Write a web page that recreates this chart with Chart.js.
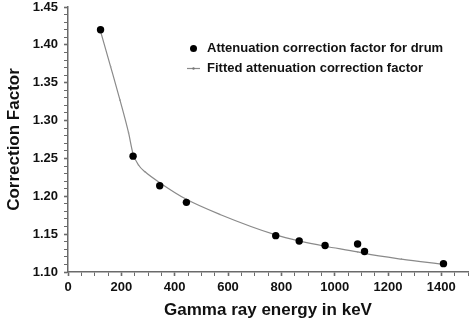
<!DOCTYPE html>
<html>
<head>
<meta charset="utf-8">
<script src="https://cdn.jsdelivr.net/npm/chart.js@4/dist/chart.umd.min.js"></script>
<style>
  html, body { margin: 0; padding: 0; background: #fff; }
  #wrap { width: 474px; height: 333px; }
</style>
</head>
<body>
<div id="wrap"><canvas id="acfChart" width="474" height="333"></canvas></div>
<script>
// measured points (Eu-152 lines)
const measuredEnergy = [122, 244, 344, 444, 779, 867, 964, 1086, 1112, 1408];
const measuredFactor = [1.420, 1.253, 1.214, 1.192, 1.148, 1.141, 1.135, 1.137, 1.127, 1.111];

// fitted curve
const fittedEnergy = [122, 160, 195, 227, 244, 265, 290, 344, 444, 570, 779, 867, 964, 1086, 1112, 1250, 1408];
const fittedFactor = [1.418, 1.371, 1.327, 1.284, 1.256, 1.241, 1.232, 1.218, 1.196, 1.176, 1.149, 1.141, 1.134, 1.1265, 1.1245, 1.117, 1.110];

const xLabels = [0, 200, 400, 600, 800, 1000, 1200, 1400];
const yLabels = [1.10, 1.15, 1.20, 1.25, 1.30, 1.35, 1.40, 1.45];

const FONT = '"Liberation Sans", Arial, sans-serif';
const AXIS = '#6a6a6a';

const toPoints = (xs, ys) => xs.map((x, i) => ({ x: x, y: ys[i] }));
const isMajorY = (v) => yLabels.some((l) => Math.abs(l - v) < 1e-6);

// legend drawn inside the plot area, top right
const innerLegend = {
  id: 'innerLegend',
  afterDraw(chart) {
    const ctx = chart.ctx;
    const sets = chart.data.datasets;
    ctx.save();
    ctx.font = 'bold 13px ' + FONT;
    ctx.textBaseline = 'middle';
    ctx.textAlign = 'left';
    // row 1 : dot
    ctx.beginPath();
    ctx.arc(193.5, 48.5, 3.5, 0, Math.PI * 2);
    ctx.fillStyle = '#000';
    ctx.fill();
    ctx.fillStyle = '#111';
    ctx.fillText(sets[0].label, 207, 48.5);
    // row 2 : line
    ctx.strokeStyle = '#8a8a8a';
    ctx.lineWidth = 1.2;
    ctx.beginPath();
    ctx.moveTo(187, 68.5);
    ctx.lineTo(200, 68.5);
    ctx.stroke();
    ctx.beginPath();
    ctx.arc(193.5, 68.5, 1.2, 0, Math.PI * 2);
    ctx.fillStyle = '#777';
    ctx.fill();
    ctx.fillStyle = '#111';
    ctx.fillText(sets[1].label, 207, 68.5);
    ctx.restore();
  }
};

new Chart(document.getElementById('acfChart'), {
  type: 'scatter',
  data: {
    datasets: [
      {
        label: 'Attenuation correction factor for drum',
        data: toPoints(measuredEnergy, measuredFactor),
        showLine: false,
        pointRadius: 3.7,
        pointBackgroundColor: '#000',
        pointBorderColor: '#000',
        pointBorderWidth: 0,
        order: 1,
      },
      {
        label: 'Fitted attenuation correction factor',
        data: toPoints(fittedEnergy, fittedFactor),
        showLine: true,
        borderColor: '#8a8a8a',
        borderWidth: 1.2,
        cubicInterpolationMode: 'monotone',
        pointRadius: 0.8,
        pointBackgroundColor: '#999',
        pointBorderWidth: 0,
        order: 2,
      },
    ],
  },
  options: {
    responsive: false,
    animation: false,
    layout: { padding: { top: 7, right: 6, left: 4, bottom: 12 } },
    plugins: { legend: { display: false }, tooltip: { enabled: false } },
    scales: {
      x: {
        type: 'linear',
        min: 0,
        max: 1500,
        afterFit: (s) => { s.height = 49; s.paddingLeft = 0; s.paddingRight = 0; },
        border: { display: true, color: AXIS, width: 1.5 },
        grid: {
          drawOnChartArea: false,
          drawTicks: true,
          tickLength: 4,
          tickColor: AXIS,
          tickWidth: (c) => (xLabels.includes(c.tick.value) ? 1.6 : 1),
        },
        ticks: {
          stepSize: 50,
          autoSkip: false,
          maxRotation: 0,
          padding: 4,
          color: '#111',
          font: { family: FONT, size: 13, weight: 'bold' },
          callback: (v) => (xLabels.includes(v) ? String(v) : ''),
        },
        title: {
          display: true,
          text: 'Gamma ray energy in keV',
          color: '#111',
          padding: { top: 2, bottom: 0 },
          font: { family: FONT, size: 17, weight: 'bold' },
        },
      },
      y: {
        type: 'linear',
        min: 1.10,
        max: 1.45,
        afterFit: (s) => { s.width = 64; s.paddingTop = 0; s.paddingBottom = 0; },
        border: { display: true, color: AXIS, width: 1.5 },
        grid: {
          drawOnChartArea: false,
          drawTicks: true,
          tickLength: 4,
          tickColor: AXIS,
          tickWidth: (c) => (isMajorY(c.tick.value) ? 1.6 : 1),
        },
        ticks: {
          stepSize: 0.01,
          autoSkip: false,
          padding: 6,
          color: '#111',
          font: { family: FONT, size: 13, weight: 'bold' },
          callback: (v) => (isMajorY(v) ? v.toFixed(2) : ''),
        },
        title: {
          display: true,
          text: 'Correction Factor',
          color: '#111',
          padding: { top: 0, bottom: 4 },
          font: { family: FONT, size: 17, weight: 'bold' },
        },
      },
    },
  },
  plugins: [innerLegend],
});
</script>
</body>
</html>
